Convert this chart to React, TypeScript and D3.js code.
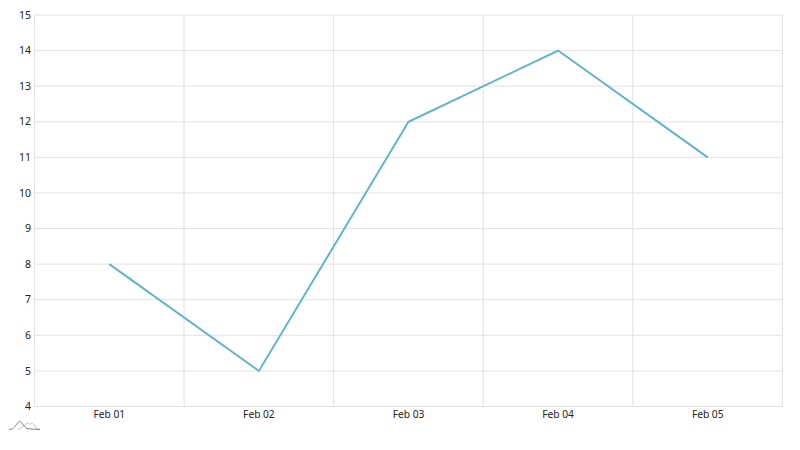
import React from "react";
import * as d3 from "d3";

const categories = ["Feb 01", "Feb 02", "Feb 03", "Feb 04", "Feb 05"];
const values = [8, 5, 12, 14, 11];
const yTicks = [4, 5, 6, 7, 8, 9, 10, 11, 12, 13, 14, 15];

const logoMajor: [number, number][] = [[0, 0], [3, -0.5], [6, -3], [9, -7], [10.5, -8], [12, -7.5], [15, -3.5], [18, -1], [22, -0.5], [31, 0]];
const logoMinor: [number, number][] = [[9, 0], [13, -2], [16, -4.5], [19, -6.5], [21, -5], [23, -6.5], [25, -4.5], [27, -1.5], [29, -0.3], [31, 0]];

const W = 800, H = 450;
const L = 34.5, R = 782.5, T = 15, B = 406.5;
const FONT = "'Noto Sans', 'Open Sans', sans-serif";

export default function App() {
  const x = d3.scaleBand<string>().domain(categories).range([L, R]);
  const y = d3.scaleLinear().domain([4, 15]).range([B, T]);
  const line = d3.line<number>()
    .x((_, i) => x(categories[i])! + x.bandwidth() / 2)
    .y((d) => y(d));
  const logo = d3.line<[number, number]>().x((d) => d[0]).y((d) => d[1]).curve(d3.curveMonotoneX);
  const gridV = [L, ...categories.map((c) => x(c)! + x.bandwidth())];

  return (
    <svg width={W} height={H} style={{ position: "absolute", left: 0, top: 0, background: "#fff" }} fontFamily={FONT}>
      {yTicks.map((t) => (
        <line key={t} x1={L} x2={R} y1={y(t)} y2={y(t)} stroke="#e2e2e2" strokeWidth={1} />
      ))}
      {gridV.map((g, i) => (
        <line key={i} x1={g - 0.1} x2={g - 0.1} y1={T} y2={B} stroke="#e0e0e0" strokeWidth={1} />
      ))}
      {yTicks.map((t) => (
        <text key={t} x={31} y={y(t)} dy="0.35em" textAnchor="end" fontSize={10.5} fill="#222">{t}</text>
      ))}
      {categories.map((c) => (
        <text key={c} x={x(c)! + x.bandwidth() / 2} y={414.7} dy="0.35em" textAnchor="middle" fontSize={10.2} fill="#222">{c}</text>
      ))}
      <path d={line(values)!} fill="none" stroke="#5bb2d3" strokeWidth={1.9} />
      <g transform="translate(9,429.5)" fill="none">
        <path d={logo(logoMinor)!} stroke="#bdbdbd" strokeWidth={1} />
        <path d={logo(logoMajor)!} stroke="#808080" strokeWidth={1} />
      </g>
    </svg>
  );
}
